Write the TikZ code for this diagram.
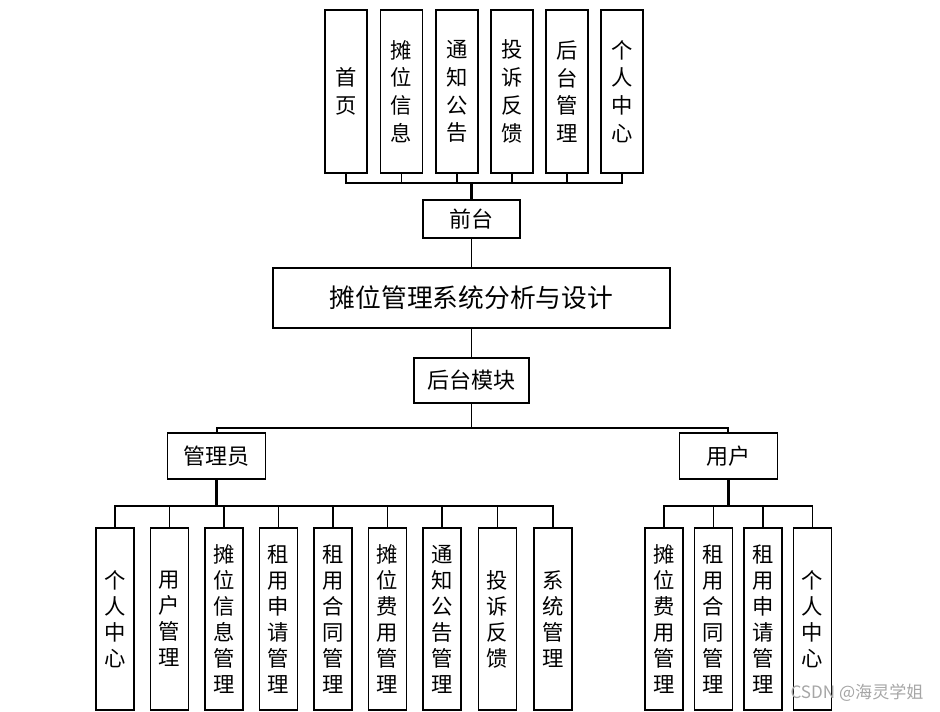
\documentclass[tikz,border=0pt]{standalone}
\usepackage{fontspec}
\newfontfamily\cjk{Noto Sans CJK SC}
\usetikzlibrary{calc}
\tikzstyle{tallbox}=[draw,line width=1.1pt,minimum width=28.5pt,minimum height=136.5pt,inner sep=0pt,align=center,font=\cjk\fontsize{16}{19.5}\selectfont]
\tikzstyle{widebox}=[draw,line width=1.1pt,inner sep=0pt,minimum height=34.5pt,font=\cjk\fontsize{16.5}{20}\selectfont]
\tikzstyle{edge} = [draw,line width=1.3pt]
\tikzstyle{thickedge} = [draw,line width=2.2pt]

\begin{document}
\begin{tikzpicture}[x=0.75pt,y=-0.75pt]
    \useasboundingbox (0,0) rectangle (940,712);
    % First we draw the front pages
    \foreach \pos/ \name/ \txt in {{(346,91.5)/q1/{首\\页}},{(401.5,91.5)/q2/{摊\\位\\信\\息}},
        {(457,91.5)/q3/{通\\知\\公\\告}},{(512,91.5)/q4/{投\\诉\\反\\馈}},
        {(567,91.5)/q5/{后\\台\\管\\理}},{(622,91.5)/q6/{个\\人\\中\\心}}}
        \node[tallbox,minimum width=31.5pt,minimum height=122.25pt,font=\cjk\fontsize{16}{20.8}\selectfont] (\name) at \pos {\txt};

    % middle column
    \node[widebox,minimum width=72.75pt,minimum height=28.5pt] (qt) at (471.5,219) {前台};
    \node[widebox,minimum width=297.75pt,minimum height=45pt,font=\cjk\fontsize{19.3}{23}\selectfont] (sys) at (471.5,298) {摊位管理系统分析与设计};
    \node[widebox,minimum width=86.25pt,minimum height=33.75pt] (ht) at (471.5,380.5) {后台模块};
    \node[widebox,minimum width=73.5pt] (gly) at (216.7,456) {管理员};
    \node[widebox,minimum width=73.5pt] (yh) at (728.3,456) {用户};

    % admin modules
    \foreach \pos/ \name/ \txt in {{(115,619)/a1/{个\\人\\中\\心}},{(169.5,619)/a2/{用\\户\\管\\理}},
        {(224,619)/a3/{摊\\位\\信\\息\\管\\理}},{(278.5,619)/a4/{租\\用\\申\\请\\管\\理}},
        {(333,619)/a5/{租\\用\\合\\同\\管\\理}},{(387.5,619)/a6/{摊\\位\\费\\用\\管\\理}},
        {(442,619)/a7/{通\\知\\公\\告\\管\\理}},{(497.5,619)/a8/{投\\诉\\反\\馈}},
        {(553,619)/a9/{系\\统\\管\\理}}}
        \node[tallbox] (\name) at \pos {\txt};

    % user modules
    \foreach \pos/ \name/ \txt in {{(664,619)/u1/{摊\\位\\费\\用\\管\\理}},{(713.5,619)/u2/{租\\用\\合\\同\\管\\理}},
        {(763,619)/u3/{租\\用\\申\\请\\管\\理}},{(812.5,619)/u4/{个\\人\\中\\心}}}
        \node[tallbox] (\name) at \pos {\txt};

    % Connect boxes
    \path[thickedge] (qt.north) -- ++(0,-16) coordinate (qbus);
    \foreach \name in {q1,q2,q3,q4,q5,q6}
        \path[edge] (\name.south) |- (qbus);
    \path[edge] (qt.south) -- (sys.north);
    \path[edge] (sys.south) -- (ht.north);
    \path[edge] (ht.south) -- ++(0,24) coordinate (mbus);
    \foreach \name in {gly,yh}
        \path[edge] (\name.north) |- (mbus);

    \path[thickedge] (gly.south) -- ++(0,26.5) coordinate (abus);
    \foreach \name in {a1,a2,a3,a4,a5,a6,a7,a8,a9}
        \path[edge] (\name.north) |- (abus);
    \path[thickedge] (yh.south) -- ++(0,26.5) coordinate (ubus);
    \foreach \name in {u1,u2,u3,u4}
        \path[edge] (\name.north) |- (ubus);

    \node[font=\cjk\fontsize{12.8}{15}\selectfont,text=black!35] (mark) at (857,693) {CSDN @海灵学姐};
\end{tikzpicture}
\end{document}
